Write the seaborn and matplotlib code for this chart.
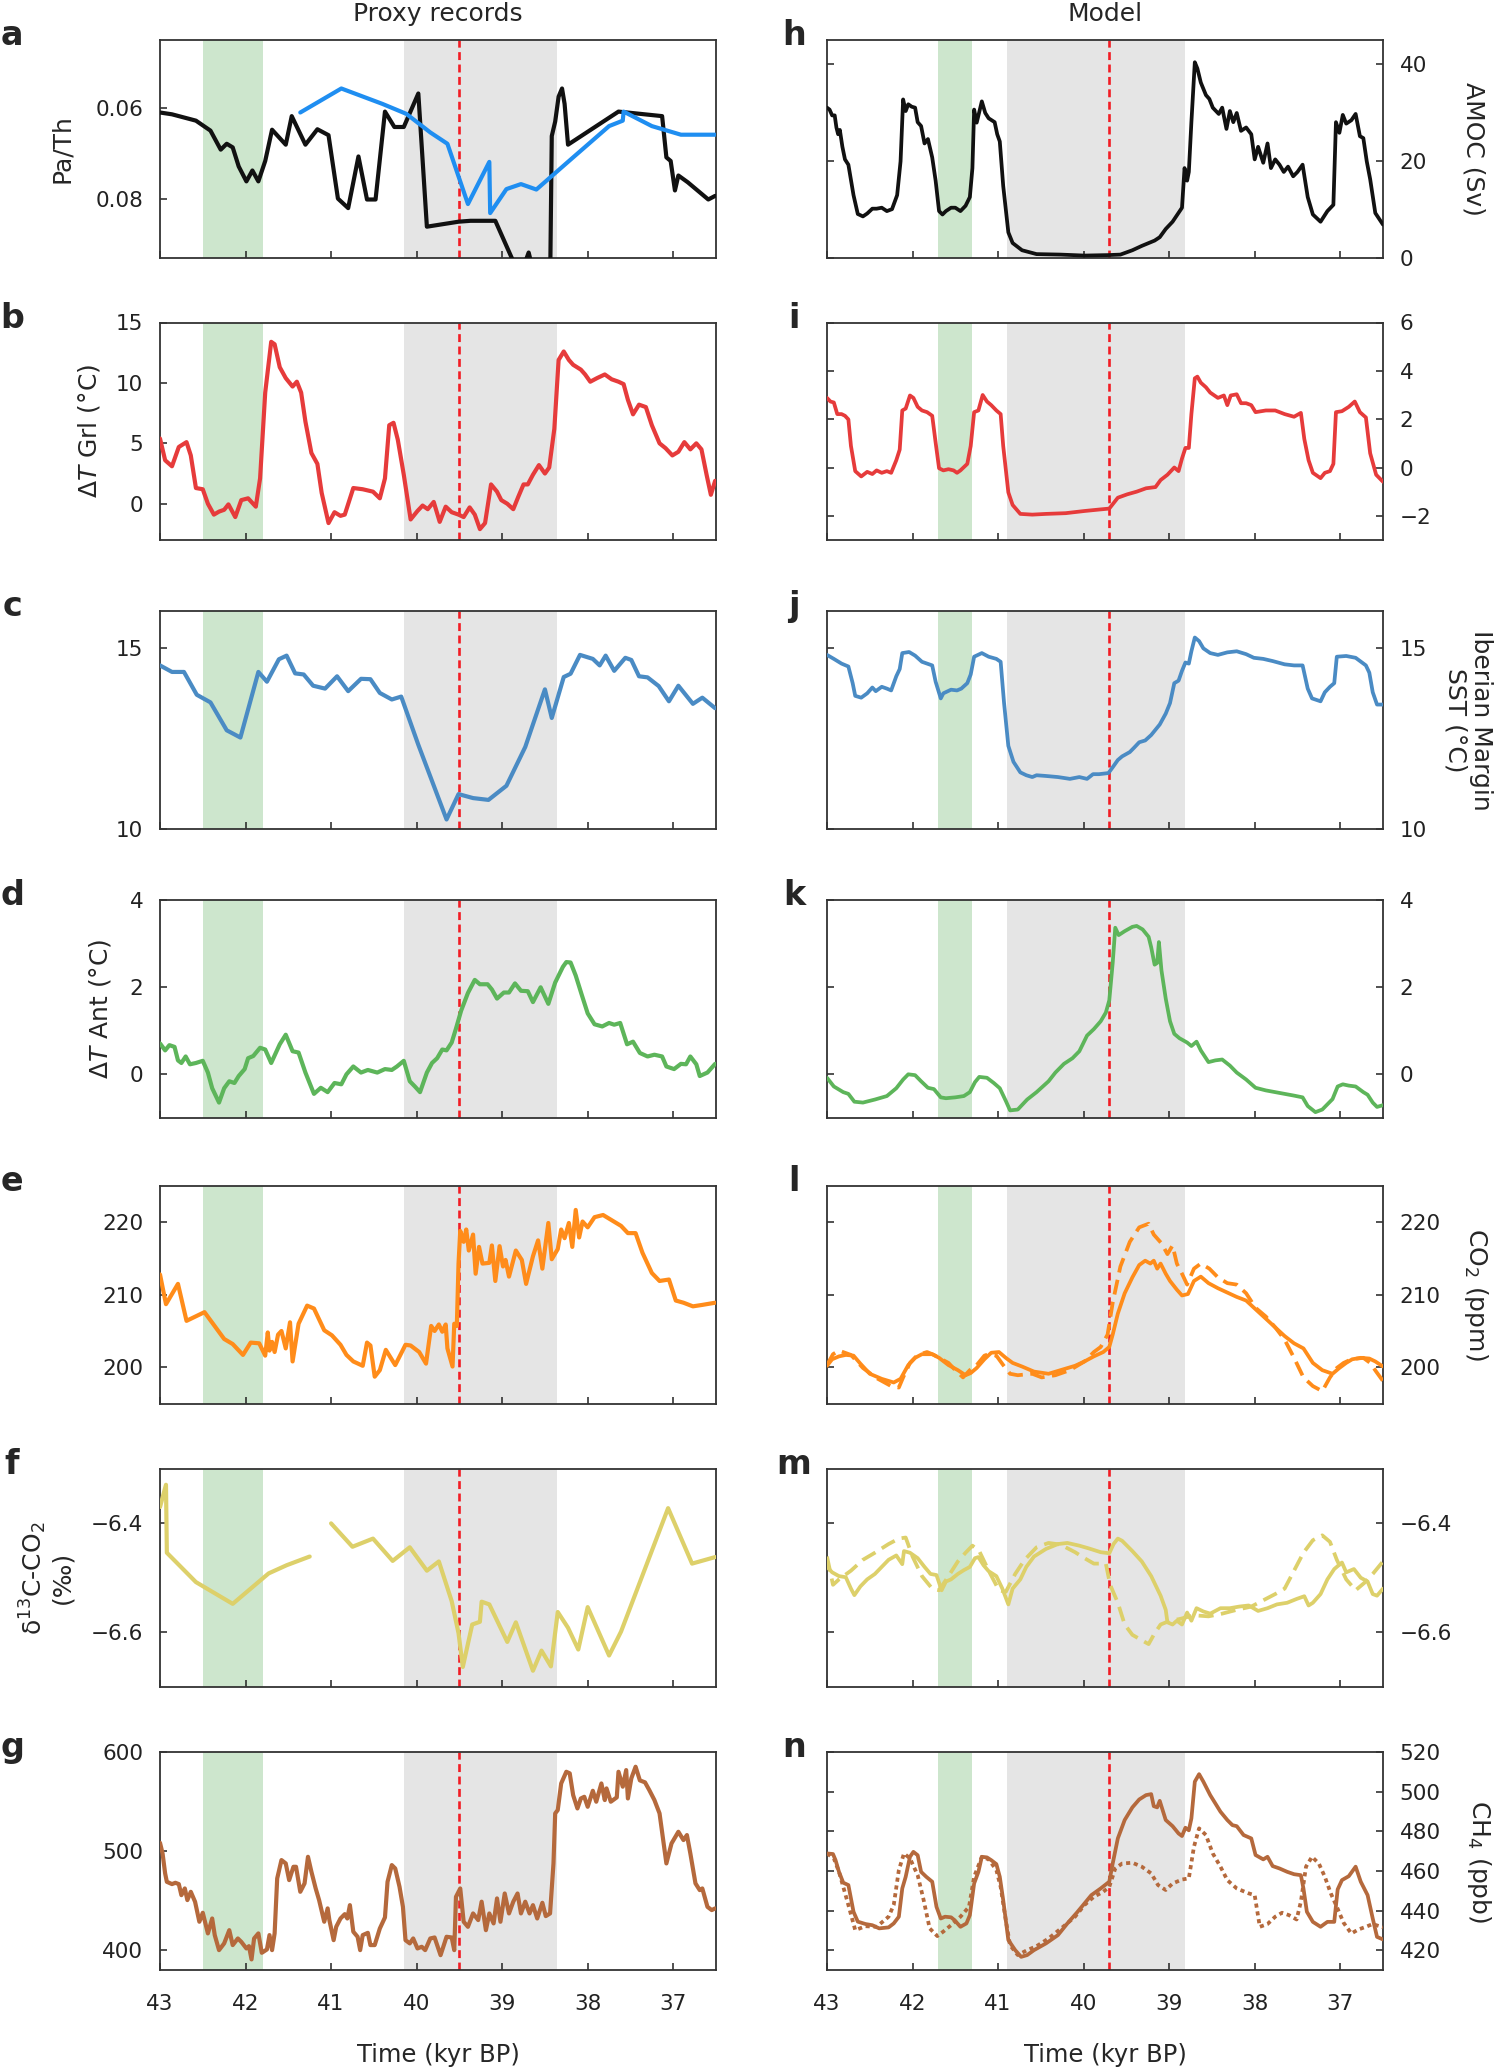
import pandas as pd
import matplotlib
matplotlib.use("Agg")
import matplotlib.pyplot as plt
import seaborn as sns

# ---------------- data (time in kyr BP) ----------------
# proxy shading / event markers
proxy_green = (42.50, 41.80)
proxy_gray = (40.15, 38.36)
proxy_event = 39.50
model_green = (41.70, 41.30)
model_gray = (40.90, 38.81)
model_event = 39.70

# a: Pa/Th (two cores)
pa_black = [(43.00, 0.0610), (42.86, 0.0614), (42.58, 0.0628), (42.41, 0.0650), (42.29, 0.0692), (42.22, 0.0679),
            (42.15, 0.0687), (42.08, 0.0729), (41.99, 0.0762), (41.92, 0.0738), (41.85, 0.0762), (41.77, 0.0717),
            (41.69, 0.0648), (41.53, 0.0681), (41.46, 0.0618), (41.30, 0.0681), (41.16, 0.0647), (41.03, 0.0660),
            (40.92, 0.0800), (40.80, 0.0821), (40.68, 0.0707), (40.58, 0.0802), (40.48, 0.0802), (40.37, 0.0608),
            (40.26, 0.0642), (40.15, 0.0642), (39.98, 0.0568), (39.88, 0.0862), (39.51, 0.0851), (39.37, 0.0849),
            (39.08, 0.0849), (38.89, 0.0930), (38.79, 0.0970), (38.73, 0.0940), (38.69, 0.0919), (38.65, 0.0950),
            (38.53, 0.1000), (38.44, 0.1000), (38.42, 0.0662), (38.38, 0.0630), (38.34, 0.0575), (38.30, 0.0557),
            (38.27, 0.0591), (38.23, 0.0681), (37.64, 0.0608), (37.13, 0.0618), (37.08, 0.0709), (37.03, 0.0717),
            (36.98, 0.0782), (36.94, 0.0749), (36.83, 0.0764), (36.59, 0.0802), (36.51, 0.0794)]
pa_blue = [(41.36, 0.0610), (40.88, 0.0557), (40.40, 0.0591), (40.12, 0.0613), (39.84, 0.0654), (39.64, 0.0679),
           (39.40, 0.0812), (39.15, 0.0719), (39.14, 0.0832), (38.95, 0.0779), (38.78, 0.0768), (38.60, 0.0780),
           (38.17, 0.0709), (37.75, 0.0640), (37.59, 0.0628), (37.58, 0.0608), (37.25, 0.0640), (36.91, 0.0659),
           (36.51, 0.0659)]

# b: Greenland temperature anomaly
grl_proxy = [(43.00, 5.4), (42.94, 3.6), (42.86, 3.1), (42.78, 4.7), (42.69, 5.1), (42.64, 4.0), (42.58, 1.3),
             (42.50, 1.2), (42.44, 0.0), (42.37, -0.9), (42.31, -0.65), (42.25, -0.5), (42.20, -0.05), (42.12, -1.1),
             (42.05, 0.3), (41.97, 0.45), (41.88, -0.24), (41.83, 2.1), (41.77, 9.2), (41.70, 13.4), (41.66, 13.2),
             (41.60, 11.3), (41.53, 10.4), (41.45, 9.7), (41.40, 10.1), (41.35, 9.2), (41.30, 6.8), (41.23, 4.2),
             (41.16, 3.3), (41.11, 0.9), (41.03, -1.6), (40.96, -0.7), (40.89, -1.0), (40.84, -0.9), (40.74, 1.3),
             (40.63, 1.2), (40.51, 1.0), (40.43, 0.45), (40.37, 2.1), (40.32, 6.5), (40.27, 6.7), (40.22, 5.3),
             (40.15, 2.4), (40.07, -1.3), (39.99, -0.6), (39.93, -0.15), (39.87, -0.45), (39.80, 0.15), (39.73, -1.5),
             (39.66, -0.24), (39.59, -0.7), (39.51, -0.9), (39.45, -1.1), (39.38, -0.3), (39.32, -0.9), (39.26, -2.1),
             (39.20, -1.6), (39.13, 1.6), (39.06, 1.0), (39.01, 0.3), (38.94, 0.0), (38.87, -0.45), (38.81, 0.6),
             (38.75, 1.6), (38.70, 1.6), (38.64, 2.4), (38.57, 3.2), (38.50, 2.5), (38.45, 3.0), (38.39, 6.2),
             (38.34, 11.9), (38.28, 12.6), (38.22, 11.9), (38.17, 11.5), (38.08, 11.1), (38.03, 10.7), (37.97, 10.1),
             (37.89, 10.4), (37.80, 10.7), (37.72, 10.3), (37.64, 10.1), (37.58, 9.9), (37.53, 8.6), (37.47, 7.4),
             (37.40, 8.2), (37.32, 8.0), (37.25, 6.5), (37.16, 5.0), (37.09, 4.6), (37.01, 4.0), (36.94, 4.3),
             (36.87, 5.1), (36.80, 4.5), (36.73, 5.0), (36.67, 4.5), (36.61, 2.4), (36.56, 0.74), (36.51, 1.9)]

# c: Iberian Margin SST
sst_proxy = [(43.00, 14.51), (42.86, 14.33), (42.72, 14.33), (42.57, 13.70), (42.41, 13.49), (42.22, 12.72),
             (42.06, 12.52), (41.85, 14.33), (41.75, 14.06), (41.61, 14.68), (41.52, 14.78), (41.42, 14.29),
             (41.32, 14.26), (41.21, 13.95), (41.07, 13.87), (40.93, 14.21), (40.80, 13.80), (40.65, 14.14),
             (40.54, 14.13), (40.43, 13.75), (40.29, 13.57), (40.18, 13.65), (39.98, 12.32), (39.65, 10.26),
             (39.51, 10.96), (39.34, 10.85), (39.16, 10.80), (38.95, 11.19), (38.73, 12.26), (38.50, 13.85),
             (38.42, 13.06), (38.28, 14.19), (38.20, 14.28), (38.09, 14.80), (37.94, 14.69), (37.86, 14.51),
             (37.79, 14.78), (37.69, 14.36), (37.56, 14.72), (37.49, 14.66), (37.40, 14.21), (37.30, 14.18),
             (37.17, 13.94), (37.05, 13.52), (36.94, 13.95), (36.77, 13.45), (36.66, 13.62), (36.51, 13.33)]

# d: Antarctic temperature anomaly
ant_proxy = [(43.00, 0.71), (42.94, 0.55), (42.89, 0.67), (42.83, 0.63), (42.79, 0.32), (42.75, 0.26), (42.70, 0.41),
             (42.65, 0.23), (42.58, 0.26), (42.50, 0.31), (42.44, 0.04), (42.39, -0.32), (42.31, -0.65), (42.25, -0.32),
             (42.19, -0.16), (42.13, -0.20), (42.08, -0.04), (42.01, 0.12), (41.97, 0.37), (41.91, 0.42), (41.83, 0.61),
             (41.77, 0.57), (41.70, 0.26), (41.60, 0.69), (41.53, 0.91), (41.45, 0.53), (41.38, 0.50), (41.30, 0.04),
             (41.20, -0.45), (41.12, -0.31), (41.04, -0.41), (40.96, -0.20), (40.88, -0.23), (40.82, 0.0), (40.74, 0.18),
             (40.65, 0.04), (40.57, 0.10), (40.46, 0.04), (40.37, 0.12), (40.29, 0.10), (40.23, 0.18), (40.15, 0.31),
             (40.08, -0.16), (40.02, -0.28), (39.96, -0.41), (39.88, 0.04), (39.82, 0.26), (39.76, 0.37), (39.70, 0.57),
             (39.65, 0.55), (39.59, 0.73), (39.54, 1.05), (39.48, 1.46), (39.40, 1.87), (39.32, 2.17), (39.26, 2.07),
             (39.17, 2.07), (39.12, 1.95), (39.06, 1.74), (38.98, 1.88), (38.92, 1.88), (38.85, 2.09), (38.78, 1.92),
             (38.70, 1.91), (38.64, 1.66), (38.55, 2.00), (38.46, 1.62), (38.38, 2.11), (38.29, 2.47), (38.25, 2.58),
             (38.20, 2.57), (38.14, 2.27), (38.07, 1.83), (38.00, 1.40), (37.92, 1.15), (37.83, 1.10), (37.75, 1.18),
             (37.69, 1.14), (37.62, 1.18), (37.54, 0.69), (37.47, 0.75), (37.39, 0.49), (37.30, 0.41), (37.22, 0.45),
             (37.13, 0.41), (37.08, 0.18), (36.99, 0.12), (36.91, 0.24), (36.85, 0.23), (36.80, 0.41), (36.73, 0.23),
             (36.69, -0.04), (36.60, 0.04), (36.51, 0.24)]

# e: atmospheric CO2
co2_proxy = [(43.00, 212.8), (42.93, 208.7), (42.79, 211.5), (42.69, 206.4), (42.48, 207.6), (42.25, 203.9),
             (42.15, 203.2), (42.03, 201.7), (41.94, 203.4), (41.84, 203.3), (41.77, 201.6), (41.74, 204.8),
             (41.72, 202.3), (41.69, 203.5), (41.66, 202.1), (41.62, 204.5), (41.58, 205.0), (41.53, 202.6),
             (41.48, 206.2), (41.45, 200.8), (41.38, 206.0), (41.28, 208.5), (41.20, 208.1), (41.08, 205.1),
             (40.99, 204.4), (40.89, 203.1), (40.82, 201.7), (40.74, 200.8), (40.63, 200.2), (40.58, 203.4),
             (40.54, 203.0), (40.49, 198.7), (40.43, 199.6), (40.36, 202.4), (40.25, 200.3), (40.13, 203.1),
             (40.07, 203.0), (39.97, 202.1), (39.89, 200.5), (39.83, 205.7), (39.79, 205.0), (39.74, 205.9),
             (39.70, 204.9), (39.66, 205.9), (39.64, 202.6), (39.58, 200.1), (39.56, 206.0), (39.53, 205.7),
             (39.51, 214.3), (39.49, 218.8), (39.45, 217.3), (39.42, 219.0), (39.39, 216.1), (39.34, 218.3),
             (39.31, 212.9), (39.27, 216.6), (39.23, 214.3), (39.15, 214.4), (39.12, 216.8), (39.08, 211.9),
             (39.03, 216.7), (38.99, 213.9), (38.96, 214.8), (38.92, 212.5), (38.84, 216.1), (38.77, 214.8),
             (38.72, 211.5), (38.64, 215.3), (38.58, 217.5), (38.53, 213.6), (38.46, 219.9), (38.42, 214.9),
             (38.35, 216.3), (38.31, 219.0), (38.27, 217.8), (38.22, 219.9), (38.18, 216.6), (38.14, 221.7),
             (38.10, 217.9), (38.06, 220.1), (38.00, 219.3), (37.92, 220.7), (37.82, 221.0), (37.61, 219.5),
             (37.53, 218.5), (37.44, 218.5), (37.36, 215.8), (37.25, 213.0), (37.16, 211.9), (37.05, 212.1),
             (36.97, 209.2), (36.88, 208.9), (36.77, 208.4), (36.66, 208.6), (36.51, 208.9)]

# f: d13C of CO2 (two segments, gap between them)
d13c_proxy_1 = [(43.00, -6.370), (42.93, -6.329), (42.92, -6.454), (42.58, -6.508), (42.15, -6.548),
                (41.73, -6.492), (41.52, -6.477), (41.25, -6.461)]
d13c_proxy_2 = [(41.00, -6.400), (40.75, -6.443), (40.51, -6.428), (40.28, -6.469), (40.08, -6.444), (39.88, -6.487),
                (39.74, -6.470), (39.59, -6.543), (39.51, -6.602), (39.46, -6.664), (39.35, -6.586), (39.26, -6.581),
                (39.24, -6.544), (39.15, -6.549), (38.94, -6.618), (38.84, -6.582), (38.64, -6.671), (38.54, -6.634),
                (38.43, -6.663), (38.35, -6.563), (38.23, -6.592), (38.11, -6.632), (38.00, -6.554), (37.75, -6.643),
                (37.61, -6.599), (37.06, -6.372), (36.78, -6.474), (36.51, -6.462)]

# g: atmospheric CH4
ch4_proxy = [(43.00, 508.6), (42.97, 497.8), (42.94, 477.6), (42.92, 469.1), (42.86, 466.8), (42.82, 468.1),
             (42.78, 466.8), (42.75, 455.6), (42.71, 462.4), (42.68, 450.6), (42.64, 459.0), (42.59, 448.9),
             (42.54, 428.7), (42.50, 437.8), (42.44, 416.9), (42.39, 432.0), (42.36, 415.2), (42.31, 400.0),
             (42.25, 406.8), (42.19, 420.2), (42.15, 405.1), (42.09, 411.8), (42.05, 408.4), (41.99, 401.7),
             (41.96, 404.0), (41.93, 390.6), (41.90, 411.8), (41.85, 416.9), (41.81, 397.3), (41.75, 400.7),
             (41.72, 415.2), (41.69, 400.0), (41.66, 416.9), (41.63, 472.5), (41.58, 491.1), (41.53, 487.7),
             (41.49, 470.8), (41.44, 484.3), (41.41, 484.3), (41.36, 459.0), (41.31, 467.5), (41.27, 494.4),
             (41.23, 479.3), (41.18, 462.4), (41.14, 450.6), (41.08, 428.7), (41.04, 442.2), (41.02, 430.4),
             (40.97, 410.1), (40.94, 423.6), (40.89, 432.0), (40.84, 436.4), (40.81, 432.0), (40.78, 445.5),
             (40.74, 418.6), (40.69, 413.5), (40.66, 400.0), (40.63, 415.2), (40.57, 417.5), (40.54, 405.1),
             (40.49, 405.1), (40.43, 421.9), (40.37, 433.1), (40.34, 469.1), (40.29, 486.0), (40.25, 482.6),
             (40.20, 464.1), (40.16, 443.8), (40.13, 410.1), (40.08, 406.8), (40.04, 411.8), (39.99, 401.7),
             (39.94, 403.4), (39.90, 400.0), (39.84, 411.8), (39.79, 412.8), (39.72, 394.9), (39.65, 413.5),
             (39.59, 412.8), (39.56, 400.0), (39.54, 453.9), (39.49, 462.4), (39.45, 428.7), (39.40, 423.6),
             (39.34, 437.1), (39.28, 430.4), (39.24, 449.0), (39.19, 420.2), (39.15, 437.1), (39.10, 427.0),
             (39.06, 452.3), (39.02, 428.7), (38.97, 457.3), (38.92, 437.1), (38.87, 449.0), (38.82, 457.3),
             (38.78, 437.1), (38.73, 449.0), (38.68, 437.1), (38.64, 445.5), (38.59, 432.0), (38.53, 447.9),
             (38.49, 434.4), (38.44, 437.1), (38.40, 487.7), (38.38, 538.3), (38.35, 541.7), (38.31, 568.6),
             (38.25, 580.4), (38.21, 578.8), (38.17, 556.8), (38.12, 543.3), (38.08, 553.4), (38.04, 555.1),
             (38.00, 545.0), (37.94, 561.2), (37.90, 550.1), (37.84, 568.6), (37.80, 551.8), (37.78, 563.6),
             (37.73, 550.1), (37.66, 554.5), (37.64, 580.4), (37.59, 565.3), (37.55, 582.1), (37.53, 553.4),
             (37.49, 573.7), (37.44, 585.5), (37.39, 571.7), (37.33, 569.7), (37.28, 561.9), (37.22, 551.8),
             (37.16, 538.3), (37.08, 487.7), (37.02, 507.9), (36.94, 519.7), (36.88, 511.3), (36.84, 516.4),
             (36.80, 497.8), (36.74, 467.5), (36.69, 460.7), (36.66, 462.4), (36.60, 443.8), (36.55, 440.5),
             (36.51, 442.2)]

# h: model AMOC
amoc_model = [(43.00, 31.0), (42.97, 30.6), (42.94, 29.4), (42.91, 29.4), (42.89, 26.9), (42.87, 25.5), (42.85, 26.4),
              (42.82, 22.9), (42.79, 20.3), (42.75, 19.2), (42.69, 12.9), (42.64, 9.0), (42.58, 8.5), (42.53, 9.1),
              (42.47, 10.1), (42.42, 10.1), (42.36, 10.3), (42.30, 9.6), (42.24, 10.0), (42.18, 12.9), (42.14, 19.9),
              (42.11, 32.7), (42.08, 30.3), (42.05, 31.7), (42.01, 31.2), (41.97, 31.0), (41.94, 28.0), (41.90, 27.2),
              (41.86, 23.6), (41.82, 24.5), (41.77, 20.7), (41.73, 15.9), (41.69, 9.6), (41.65, 8.9), (41.61, 9.6),
              (41.55, 10.3), (41.50, 10.3), (41.44, 9.6), (41.38, 10.7), (41.33, 12.5), (41.30, 18.5), (41.28, 30.6),
              (41.25, 27.9), (41.19, 32.3), (41.15, 29.9), (41.11, 28.8), (41.04, 28.0), (41.01, 25.5), (40.98, 24.0),
              (40.94, 14.8), (40.88, 5.2), (40.83, 3.0), (40.72, 1.5), (40.55, 0.7), (40.27, 0.6), (39.99, 0.4),
              (39.71, 0.5), (39.57, 0.6), (39.43, 1.5), (39.32, 2.4), (39.17, 3.5), (39.11, 4.2), (39.04, 5.9),
              (38.96, 7.4), (38.85, 10.3), (38.82, 18.5), (38.79, 15.9), (38.77, 17.7), (38.74, 28.0), (38.70, 40.4),
              (38.67, 39.1), (38.63, 36.2), (38.57, 33.6), (38.53, 32.8), (38.49, 31.0), (38.42, 29.7), (38.38, 31.0),
              (38.33, 26.6), (38.29, 30.3), (38.25, 28.0), (38.21, 29.9), (38.16, 26.2), (38.10, 26.9), (38.04, 25.5),
              (38.00, 20.3), (37.96, 22.9), (37.90, 19.6), (37.85, 23.6), (37.81, 18.5), (37.76, 20.3), (37.71, 19.2),
              (37.66, 17.7), (37.61, 18.8), (37.55, 16.8), (37.50, 17.7), (37.44, 19.2), (37.38, 12.5), (37.32, 8.9),
              (37.23, 7.4), (37.15, 9.6), (37.08, 10.9), (37.05, 28.0), (37.01, 25.8), (36.97, 29.5), (36.93, 27.7),
              (36.87, 28.4), (36.82, 29.7), (36.77, 25.1), (36.73, 24.7), (36.69, 19.9), (36.65, 16.2), (36.59, 9.2),
              (36.50, 6.8)]

# i: model Greenland temperature
grl_model = [(43.00, 2.88), (42.96, 2.73), (42.92, 2.69), (42.88, 2.21), (42.83, 2.21), (42.79, 2.14), (42.75, 1.99),
             (42.72, 0.89), (42.67, -0.15), (42.60, -0.37), (42.53, -0.18), (42.47, -0.27), (42.42, -0.12),
             (42.36, -0.22), (42.30, -0.15), (42.25, -0.22), (42.19, 0.30), (42.15, 0.74), (42.12, 2.36), (42.08, 2.44),
             (42.03, 2.98), (41.99, 2.88), (41.94, 2.51), (41.89, 2.36), (41.83, 2.29), (41.77, 2.14), (41.73, 1.03),
             (41.69, -0.03), (41.64, -0.12), (41.58, -0.07), (41.52, -0.12), (41.48, -0.22), (41.44, -0.12),
             (41.36, 0.15), (41.32, 0.89), (41.28, 2.29), (41.23, 2.36), (41.18, 3.00), (41.13, 2.73), (41.08, 2.58),
             (41.02, 2.36), (40.97, 2.21), (40.94, 0.89), (40.88, -1.03), (40.83, -1.55), (40.74, -1.92),
             (40.60, -1.95), (40.44, -1.92), (40.21, -1.89), (39.99, -1.80), (39.82, -1.74), (39.70, -1.70),
             (39.60, -1.25), (39.49, -1.11), (39.38, -1.00), (39.27, -0.86), (39.16, -0.81), (39.10, -0.52),
             (39.02, -0.30), (38.94, 0.00), (38.89, -0.15), (38.85, 0.37), (38.81, 0.81), (38.77, 0.81), (38.74, 2.21),
             (38.70, 3.69), (38.67, 3.76), (38.63, 3.51), (38.57, 3.32), (38.52, 3.10), (38.43, 2.88), (38.36, 2.98),
             (38.32, 2.58), (38.28, 2.98), (38.21, 3.03), (38.16, 2.66), (38.10, 2.66), (38.04, 2.58), (37.99, 2.29),
             (37.87, 2.36), (37.76, 2.36), (37.65, 2.21), (37.54, 2.10), (37.46, 2.26), (37.42, 1.18), (37.37, 0.30),
             (37.32, -0.22), (37.23, -0.44), (37.18, -0.22), (37.12, -0.15), (37.08, 0.15), (37.05, 2.29),
             (36.98, 2.33), (36.90, 2.51), (36.83, 2.73), (36.77, 2.29), (36.70, 2.07), (36.65, 0.59), (36.58, -0.30),
             (36.50, -0.59)]

# j: model Iberian Margin SST
sst_model = [(43.00, 14.80), (42.92, 14.69), (42.83, 14.56), (42.75, 14.48), (42.70, 14.02), (42.67, 13.67),
             (42.60, 13.62), (42.53, 13.74), (42.47, 13.90), (42.43, 13.80), (42.36, 13.92), (42.30, 13.87),
             (42.25, 13.82), (42.19, 14.21), (42.15, 14.41), (42.12, 14.85), (42.04, 14.88), (41.97, 14.78),
             (41.89, 14.61), (41.77, 14.51), (41.73, 14.06), (41.67, 13.60), (41.64, 13.74), (41.55, 13.84),
             (41.48, 13.82), (41.43, 13.87), (41.36, 14.02), (41.32, 14.26), (41.28, 14.75), (41.19, 14.85),
             (41.11, 14.75), (41.02, 14.69), (40.97, 14.61), (40.93, 13.47), (40.88, 12.29), (40.82, 11.85),
             (40.74, 11.56), (40.67, 11.48), (40.60, 11.43), (40.55, 11.48), (40.44, 11.46), (40.30, 11.43),
             (40.16, 11.38), (40.05, 11.43), (39.96, 11.38), (39.89, 11.51), (39.82, 11.51), (39.71, 11.54),
             (39.66, 11.70), (39.60, 11.90), (39.55, 12.00), (39.46, 12.12), (39.41, 12.24), (39.35, 12.39),
             (39.28, 12.44), (39.21, 12.59), (39.11, 12.88), (39.04, 13.18), (38.99, 13.47), (38.94, 14.02),
             (38.89, 14.09), (38.85, 14.36), (38.81, 14.59), (38.77, 14.56), (38.74, 14.90), (38.70, 15.28),
             (38.65, 15.18), (38.60, 14.98), (38.52, 14.85), (38.43, 14.80), (38.32, 14.87), (38.21, 14.90),
             (38.10, 14.82), (38.01, 14.72), (37.90, 14.69), (37.79, 14.63), (37.65, 14.54), (37.54, 14.51),
             (37.44, 14.51), (37.38, 13.87), (37.33, 13.60), (37.23, 13.52), (37.18, 13.77), (37.12, 13.92),
             (37.07, 14.02), (37.04, 14.75), (36.93, 14.77), (36.82, 14.72), (36.70, 14.51), (36.66, 14.31),
             (36.62, 13.77), (36.57, 13.43), (36.50, 13.43)]

# k: model Antarctic temperature
ant_model = [(43.00, -0.08), (42.92, -0.28), (42.81, -0.41), (42.75, -0.45), (42.68, -0.63), (42.58, -0.65),
             (42.44, -0.58), (42.30, -0.50), (42.19, -0.32), (42.11, -0.12), (42.05, 0.00), (41.97, -0.02),
             (41.90, -0.16), (41.82, -0.31), (41.75, -0.34), (41.67, -0.53), (41.61, -0.55), (41.50, -0.53),
             (41.40, -0.50), (41.33, -0.41), (41.27, -0.18), (41.22, -0.06), (41.13, -0.08), (41.05, -0.20),
             (40.98, -0.32), (40.91, -0.61), (40.86, -0.83), (40.77, -0.81), (40.66, -0.58), (40.55, -0.41),
             (40.41, -0.16), (40.33, 0.04), (40.23, 0.24), (40.13, 0.37), (40.05, 0.53), (39.96, 0.89), (39.88, 1.04),
             (39.80, 1.22), (39.74, 1.42), (39.70, 1.70), (39.66, 2.56), (39.63, 3.37), (39.59, 3.20), (39.52, 3.29),
             (39.43, 3.39), (39.38, 3.41), (39.31, 3.33), (39.24, 3.16), (39.21, 2.92), (39.17, 2.52), (39.14, 2.56),
             (39.12, 3.04), (39.09, 2.39), (39.04, 1.74), (38.99, 1.22), (38.94, 0.93), (38.88, 0.83), (38.79, 0.73),
             (38.74, 0.65), (38.68, 0.75), (38.63, 0.55), (38.54, 0.28), (38.46, 0.32), (38.38, 0.34), (38.29, 0.20),
             (38.21, 0.04), (38.10, -0.12), (37.99, -0.31), (37.87, -0.37), (37.76, -0.41), (37.65, -0.45),
             (37.54, -0.49), (37.44, -0.53), (37.38, -0.73), (37.29, -0.87), (37.21, -0.81), (37.09, -0.57),
             (37.03, -0.28), (36.97, -0.23), (36.90, -0.26), (36.82, -0.28), (36.73, -0.41), (36.68, -0.47),
             (36.62, -0.65), (36.57, -0.75), (36.50, -0.71)]

# l: model CO2 (solid and dashed runs)
co2_model = [(43.00, 200.2), (42.94, 201.1), (42.86, 201.5), (42.78, 201.7), (42.69, 201.6), (42.61, 200.5),
             (42.50, 199.1), (42.36, 198.4), (42.22, 197.9), (42.14, 198.4), (42.05, 200.3), (41.97, 201.3),
             (41.89, 201.8), (41.77, 201.8), (41.69, 201.3), (41.58, 200.3), (41.47, 199.6), (41.38, 198.9),
             (41.32, 199.2), (41.25, 199.9), (41.16, 201.1), (41.08, 202.0), (40.99, 202.1), (40.91, 201.3),
             (40.83, 200.6), (40.72, 200.1), (40.58, 199.4), (40.41, 199.1), (40.27, 199.6), (40.10, 200.2),
             (39.99, 200.8), (39.88, 201.5), (39.77, 202.1), (39.70, 202.8), (39.66, 204.5), (39.60, 207.4),
             (39.52, 210.2), (39.43, 212.4), (39.35, 214.1), (39.28, 214.7), (39.22, 214.3), (39.18, 214.7),
             (39.14, 213.6), (39.10, 214.3), (39.04, 212.9), (38.99, 211.9), (38.91, 210.7), (38.85, 209.9),
             (38.78, 210.1), (38.71, 211.9), (38.63, 212.5), (38.54, 211.6), (38.43, 210.9), (38.32, 210.3),
             (38.21, 209.7), (38.10, 209.2), (37.99, 208.0), (37.87, 206.7), (37.76, 205.5), (37.65, 204.3),
             (37.54, 203.3), (37.43, 202.6), (37.32, 200.6), (37.21, 199.6), (37.09, 199.1), (37.01, 199.9),
             (36.93, 200.6), (36.86, 201.1), (36.76, 201.3), (36.66, 201.2), (36.59, 200.8), (36.50, 200.1)]
co2_model_alt = [(43.00, 200.3), (42.93, 201.8), (42.86, 202.3), (42.72, 201.7), (42.58, 199.9), (42.42, 198.5),
                 (42.25, 197.4), (42.16, 197.2), (42.11, 198.6), (42.03, 200.6), (41.94, 201.7), (41.83, 202.1),
                 (41.75, 201.7), (41.66, 201.1), (41.58, 200.6), (41.50, 199.6), (41.41, 198.6), (41.33, 199.6),
                 (41.25, 200.3), (41.16, 201.6), (41.11, 201.8), (41.02, 201.6), (40.94, 200.3), (40.86, 199.1),
                 (40.77, 198.9), (40.60, 199.1), (40.49, 198.6), (40.33, 198.9), (40.16, 199.6), (39.99, 200.8),
                 (39.88, 202.1), (39.80, 202.8), (39.72, 204.5), (39.66, 208.9), (39.57, 213.9), (39.46, 217.3),
                 (39.35, 219.3), (39.24, 219.8), (39.18, 218.3), (39.09, 217.1), (39.02, 215.6), (38.96, 216.8),
                 (38.91, 214.3), (38.85, 212.9), (38.79, 211.4), (38.71, 213.6), (38.63, 214.3), (38.53, 213.6),
                 (38.43, 212.4), (38.32, 211.6), (38.21, 211.4), (38.10, 210.2), (37.99, 208.2), (37.87, 207.0),
                 (37.76, 205.5), (37.65, 203.8), (37.54, 201.3), (37.43, 198.6), (37.32, 197.4), (37.21, 196.7),
                 (37.12, 198.6), (37.04, 199.9), (36.96, 200.6), (36.87, 201.1), (36.73, 201.3), (36.65, 200.6),
                 (36.58, 199.4), (36.50, 198.1)]

# m: model d13C (solid and dashed runs)
d13c_model = [(43.00, -6.480), (42.94, -6.490), (42.86, -6.497), (42.78, -6.499), (42.72, -6.520), (42.68, -6.532),
              (42.61, -6.516), (42.53, -6.503), (42.44, -6.493), (42.36, -6.480), (42.28, -6.467), (42.19, -6.459),
              (42.12, -6.475), (42.10, -6.451), (42.03, -6.454), (41.94, -6.464), (41.86, -6.480), (41.79, -6.493),
              (41.72, -6.495), (41.66, -6.523), (41.61, -6.507), (41.55, -6.503), (41.47, -6.493), (41.40, -6.486),
              (41.33, -6.480), (41.27, -6.464), (41.23, -6.462), (41.17, -6.477), (41.11, -6.488), (41.02, -6.497),
              (40.95, -6.520), (40.88, -6.549), (40.83, -6.520), (40.74, -6.503), (40.67, -6.480), (40.58, -6.461),
              (40.44, -6.447), (40.30, -6.438), (40.19, -6.436), (40.05, -6.441), (39.94, -6.446), (39.80, -6.453),
              (39.70, -6.455), (39.65, -6.438), (39.60, -6.428), (39.55, -6.432), (39.43, -6.451), (39.32, -6.470),
              (39.21, -6.497), (39.10, -6.533), (39.04, -6.559), (39.02, -6.582), (38.96, -6.586), (38.91, -6.579),
              (38.85, -6.586), (38.79, -6.564), (38.74, -6.579), (38.68, -6.556), (38.60, -6.562), (38.52, -6.566),
              (38.40, -6.556), (38.29, -6.556), (38.18, -6.553), (38.07, -6.551), (37.96, -6.561), (37.85, -6.556),
              (37.74, -6.549), (37.62, -6.546), (37.51, -6.539), (37.42, -6.534), (37.37, -6.551), (37.32, -6.546),
              (37.23, -6.530), (37.15, -6.503), (37.07, -6.484), (36.98, -6.472), (36.93, -6.490), (36.84, -6.484),
              (36.76, -6.500), (36.68, -6.507), (36.62, -6.530), (36.57, -6.533), (36.50, -6.520)]
d13c_model_alt = [(43.00, -6.461), (42.93, -6.513), (42.86, -6.503), (42.72, -6.487), (42.58, -6.467), (42.44, -6.454),
                  (42.28, -6.438), (42.16, -6.428), (42.08, -6.426), (42.00, -6.461), (41.89, -6.497), (41.77, -6.520),
                  (41.69, -6.523), (41.58, -6.497), (41.47, -6.470), (41.38, -6.454), (41.30, -6.441), (41.22, -6.451),
                  (41.11, -6.487), (40.99, -6.523), (40.91, -6.526), (40.80, -6.493), (40.69, -6.467), (40.55, -6.444),
                  (40.41, -6.436), (40.27, -6.439), (40.10, -6.453), (39.99, -6.464), (39.88, -6.474), (39.74, -6.474),
                  (39.69, -6.513), (39.60, -6.546), (39.52, -6.586), (39.43, -6.605), (39.32, -6.615), (39.24, -6.622),
                  (39.18, -6.605), (39.10, -6.586), (38.99, -6.579), (38.88, -6.576), (38.71, -6.569), (38.54, -6.571),
                  (38.38, -6.566), (38.21, -6.559), (38.04, -6.553), (37.87, -6.539), (37.76, -6.530), (37.65, -6.520),
                  (37.54, -6.487), (37.43, -6.454), (37.32, -6.431), (37.21, -6.422), (37.12, -6.434), (37.04, -6.467),
                  (36.93, -6.503), (36.82, -6.523), (36.70, -6.507), (36.62, -6.493), (36.50, -6.470)]

# n: model CH4 (solid and dotted runs)
ch4_model = [(43.00, 468.9), (42.93, 468.6), (42.90, 465.5), (42.86, 459.6), (42.81, 454.1), (42.75, 452.9),
             (42.69, 439.4), (42.64, 434.4), (42.55, 433.2), (42.47, 432.6), (42.39, 431.0), (42.28, 431.5),
             (42.22, 433.5), (42.16, 436.9), (42.12, 451.2), (42.08, 457.1), (42.03, 467.2), (41.99, 469.7),
             (41.94, 468.0), (41.90, 459.6), (41.84, 457.1), (41.77, 454.6), (41.72, 441.9), (41.67, 436.0),
             (41.62, 436.9), (41.55, 436.6), (41.51, 435.2), (41.44, 431.8), (41.37, 433.5), (41.33, 437.7),
             (41.28, 453.7), (41.23, 459.6), (41.19, 467.2), (41.13, 466.9), (41.08, 465.5), (41.02, 463.5),
             (40.98, 457.1), (40.94, 445.3), (40.88, 425.1), (40.80, 420.0), (40.73, 416.6), (40.66, 417.5),
             (40.58, 420.0), (40.44, 423.4), (40.30, 427.6), (40.19, 433.5), (40.08, 438.9), (39.99, 443.6),
             (39.91, 447.8), (39.80, 451.2), (39.70, 454.6), (39.66, 463.8), (39.60, 476.5), (39.52, 485.8),
             (39.43, 492.2), (39.35, 496.2), (39.27, 498.4), (39.21, 498.9), (39.18, 492.8), (39.14, 492.2),
             (39.11, 495.5), (39.04, 485.8), (38.96, 482.7), (38.89, 479.0), (38.85, 477.7), (38.81, 481.9),
             (38.77, 480.6), (38.74, 486.6), (38.70, 505.2), (38.65, 509.0), (38.60, 505.2), (38.52, 498.4),
             (38.40, 490.0), (38.32, 485.8), (38.26, 483.2), (38.21, 482.7), (38.13, 478.2), (38.04, 476.5),
             (37.99, 468.1), (37.90, 465.9), (37.85, 467.2), (37.79, 462.5), (37.71, 461.3), (37.62, 459.6),
             (37.54, 458.4), (37.46, 457.9), (37.43, 451.2), (37.39, 439.4), (37.32, 434.3), (37.23, 431.8),
             (37.15, 434.3), (37.07, 434.3), (37.03, 450.7), (36.98, 455.4), (36.90, 457.4), (36.82, 462.2),
             (36.76, 454.6), (36.68, 447.8), (36.62, 436.0), (36.57, 426.7), (36.50, 425.4)]
ch4_model_alt = [(43.00, 468.9), (42.92, 466.4), (42.86, 459.6), (42.81, 452.0), (42.75, 442.8), (42.67, 430.1),
                 (42.55, 432.1), (42.42, 431.8), (42.28, 436.9), (42.22, 442.8), (42.16, 460.5), (42.10, 468.9),
                 (42.03, 466.4), (41.94, 457.9), (41.87, 445.3), (41.80, 431.0), (41.71, 427.1), (41.64, 429.4),
                 (41.55, 432.6), (41.44, 436.9), (41.34, 441.9), (41.28, 457.1), (41.19, 467.2), (41.11, 465.9),
                 (41.02, 460.5), (40.97, 452.0), (40.91, 435.2), (40.86, 422.5), (40.77, 417.5), (40.66, 420.0),
                 (40.55, 422.0), (40.41, 425.9), (40.24, 431.8), (40.10, 436.9), (39.99, 442.8), (39.88, 447.0),
                 (39.77, 449.5), (39.70, 452.0), (39.63, 461.3), (39.55, 463.8), (39.43, 464.2), (39.32, 462.2),
                 (39.21, 458.8), (39.13, 452.9), (39.04, 450.4), (38.96, 453.7), (38.85, 455.7), (38.77, 456.3),
                 (38.71, 472.3), (38.65, 481.6), (38.57, 478.2), (38.49, 468.9), (38.40, 462.2), (38.32, 455.4),
                 (38.21, 451.2), (38.07, 448.7), (38.00, 447.8), (37.94, 431.8), (37.85, 433.2), (37.76, 436.9),
                 (37.68, 438.9), (37.60, 437.7), (37.51, 435.5), (37.46, 444.5), (37.40, 462.2), (37.33, 467.2),
                 (37.25, 463.8), (37.18, 457.1), (37.11, 448.7), (37.04, 441.9), (36.96, 433.8), (36.87, 428.4),
                 (36.79, 430.4), (36.70, 431.8), (36.62, 433.2), (36.50, 431.5)]

x_ticks = [43, 42, 41, 40, 39, 38, 37]

# ---------------- styling ----------------
sns.set_theme(style="ticks")
plt.rcParams["font.family"] = ["DejaVu Sans"]
plt.rcParams["mathtext.fontset"] = "dejavusans"

BLACK = "#111111"
BRIGHT_BLUE = "#1f8ef1"
RED = "#e63b3b"
STEEL = "#4a8bc4"
GREEN = "#5db55a"
ORANGE = "#ff8c1a"
KHAKI = "#ddd06a"
BROWN = "#b5693c"
GREEN_BAND = "#cde6cd"
GRAY_BAND = "#e5e5e5"
EVENT_RED = "#f21c24"

SOLID = "-"
DASHED = (0, (4, 2))
DOTTED = (0, (1.1, 1.0))

W, H = 1498, 2071
fig = plt.figure(figsize=(W / 100, H / 100), dpi=100)

row_tops = [40, 322.5, 611.4, 900.3, 1186, 1469, 1752.4]
panel_h = 217.5
col_left = [160, 827]
panel_w = 556


def add_ax(col, row):
    left = col_left[col] / W
    bottom = 1 - (row_tops[row] + panel_h) / H
    return fig.add_axes([left, bottom, panel_w / W, panel_h / H])


def draw_panel(col, row, letter, series, ylim, yticks, yticklabels, ylabel=None, label_x=None):
    ax = add_ax(col, row)
    green, gray, event = (proxy_green, proxy_gray, proxy_event) if col == 0 else (model_green, model_gray, model_event)
    ax.axvspan(*green, color=GREEN_BAND, lw=0, zorder=0)
    ax.axvspan(*gray, color=GRAY_BAND, lw=0, zorder=0)
    ax.axvline(event, color=EVENT_RED, lw=1.9, linestyle=(0, (3.0, 1.7)), zorder=1)
    lw = 3.0 if col == 0 else 2.7
    for data, color, ls in series:
        df = pd.DataFrame(data, columns=["t", "v"])
        sns.lineplot(data=df, x="t", y="v", ax=ax, color=color, lw=lw, linestyle=ls,
                     sort=False, estimator=None, zorder=3)
    ax.set_xlabel("")
    ax.set_ylabel("")
    ax.set_xlim(43, 36.5)
    ax.set_xticks(x_ticks)
    ax.set_ylim(*ylim)
    ax.set_yticks(yticks)
    ax.set_yticklabels(yticklabels)
    ax.tick_params(direction="in", length=5, width=1.1, colors="#222222", labelsize=15.5)
    ax.tick_params(axis="x", pad=17, labelbottom=(row == 6), top=False)
    if col == 1:
        ax.tick_params(axis="y", left=True, right=True, labelleft=False, labelright=True, pad=12)
    else:
        ax.tick_params(axis="y", left=True, right=False, pad=12)
    for s in ax.spines.values():
        s.set_color("#333333")
        s.set_linewidth(1.3)
    if ylabel:
        ax.text(label_x, 0.5, ylabel, transform=ax.transAxes, rotation=90 if col == 0 else -90,
                ha="center", va="center", fontsize=18, linespacing=1.1)
    lx = 12 if col == 0 else 794
    fig.text(lx / W, 1 - (row_tops[row] + 5) / H, letter, fontsize=24, fontweight="bold",
             ha="center", va="baseline")
    return ax


M = "\u2212"
# proxy column
draw_panel(0, 0, "a", [(pa_black, BLACK, SOLID), (pa_blue, BRIGHT_BLUE, SOLID)],
           (0.093, 0.045), [0.06, 0.08], ["0.06", "0.08"], "Pa/Th", -0.176)
draw_panel(0, 1, "b", [(grl_proxy, RED, SOLID)], (-3, 15), [0, 5, 10, 15], ["0", "5", "10", "15"],
           "Δ$\\it{T}$ Grl (°C)", -0.128)
draw_panel(0, 2, "c", [(sst_proxy, STEEL, SOLID)], (10, 16), [10, 15], ["10", "15"])
draw_panel(0, 3, "d", [(ant_proxy, GREEN, SOLID)], (-1, 4), [0, 2, 4], ["0", "2", "4"],
           "Δ$\\it{T}$ Ant (°C)", -0.108)
draw_panel(0, 4, "e", [(co2_proxy, ORANGE, SOLID)], (195, 225), [200, 210, 220], ["200", "210", "220"])
draw_panel(0, 5, "f", [(d13c_proxy_1, KHAKI, SOLID), (d13c_proxy_2, KHAKI, SOLID)], (-6.70, -6.30),
           [-6.6, -6.4], [M + "6.6", M + "6.4"], "δ$^{13}$C-CO$_2$\n(‰)", -0.205)
draw_panel(0, 6, "g", [(ch4_proxy, BROWN, SOLID)], (380, 600), [400, 500, 600], ["400", "500", "600"])

# model column
draw_panel(1, 0, "h", [(amoc_model, BLACK, SOLID)], (0, 45), [0, 20, 40], ["0", "20", "40"],
           "AMOC (Sv)", 1.162)
draw_panel(1, 1, "i", [(grl_model, RED, SOLID)], (-3, 6), [-2, 0, 2, 4, 6],
           [M + "2", "0", "2", "4", "6"])
draw_panel(1, 2, "j", [(sst_model, STEEL, SOLID)], (10, 16), [10, 15], ["10", "15"],
           "Iberian Margin\nSST (°C)", 1.153)
draw_panel(1, 3, "k", [(ant_model, GREEN, SOLID)], (-1, 4), [0, 2, 4], ["0", "2", "4"])
draw_panel(1, 4, "l", [(co2_model, ORANGE, SOLID), (co2_model_alt, ORANGE, DASHED)], (195, 225),
           [200, 210, 220], ["200", "210", "220"], "CO$_2$ (ppm)", 1.167)
draw_panel(1, 5, "m", [(d13c_model, KHAKI, SOLID), (d13c_model_alt, KHAKI, DASHED)], (-6.70, -6.30),
           [-6.6, -6.4], [M + "6.6", M + "6.4"])
draw_panel(1, 6, "n", [(ch4_model, BROWN, SOLID), (ch4_model_alt, BROWN, DOTTED)], (410, 520),
           [420, 440, 460, 480, 500, 520], ["420", "440", "460", "480", "500", "520"],
           "CH$_4$ (ppb)", 1.173)

# column titles and shared x labels
fig.text(438 / W, 1 - 21 / H, "Proxy records", ha="center", va="baseline", fontsize=18)
fig.text(1105 / W, 1 - 21 / H, "Model", ha="center", va="baseline", fontsize=18)
fig.text(438 / W, 1 - 2062 / H, "Time (kyr BP)", ha="center", va="baseline", fontsize=17.5)
fig.text(1105 / W, 1 - 2062 / H, "Time (kyr BP)", ha="center", va="baseline", fontsize=17.5)

fig.savefig("out.png", dpi=100, facecolor="white")
